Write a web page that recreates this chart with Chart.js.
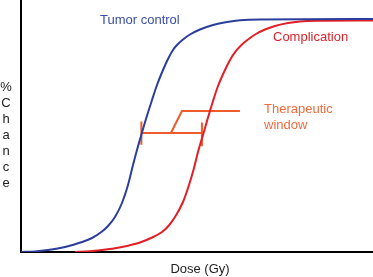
<!DOCTYPE html>
<html>
<head>
<meta charset="utf-8">
<script src="https://cdn.jsdelivr.net/npm/chart.js@4.4.1/dist/chart.umd.min.js"></script>
<style>
  html, body { margin: 0; padding: 0; background: #ffffff; }
  #wrap { width: 373px; height: 277px; }
</style>
</head>
<body>
<div id="wrap"><canvas id="c" width="373" height="277"></canvas></div>
<script>
// Tumor control curve (dose in arbitrary units 0-100, % chance)
const tumorDose = [0, 3.98, 7.67, 12.50, 17.33, 20.17, 23.01, 24.72, 26.70, 28.69, 30.40, 31.82, 32.95, 34.09, 35.51, 37.22, 38.64, 40.34, 41.76, 43.18, 44.60, 46.02, 48.01, 50.85, 54.55, 58.52, 62.22, 67.90, 100];
const tumorPct  = [0, 0.26, 0.86, 2.15, 4.29, 6.01, 8.80, 11.16, 15.02, 21.03, 28.76, 37.34, 43.78, 49.79, 57.08, 65.24, 71.67, 78.11, 82.83, 86.70, 89.27, 91.20, 93.35, 95.49, 97.42, 98.71, 99.48, 99.83, 100];

// Complication curve
const compDose = [15.34, 19.60, 23.01, 26.70, 30.40, 33.81, 36.93, 40.06, 41.76, 43.75, 46.02, 47.73, 49.15, 50.28, 51.70, 52.84, 54.55, 55.97, 57.95, 59.38, 61.08, 62.78, 64.49, 66.76, 69.32, 72.16, 75.85, 79.26, 84.94, 100];
const compPct  = [0, 0.30, 0.86, 1.63, 2.70, 4.08, 6.01, 8.58, 10.94, 15.02, 21.46, 28.76, 36.05, 42.92, 50.21, 56.22, 64.81, 71.24, 78.11, 82.40, 86.27, 89.06, 91.20, 93.56, 95.49, 97.00, 98.28, 98.93, 99.23, 99.36];

// Therapeutic window bracket
const windowDose = [34.2, 51.4];
const windowPct = 51.1;
const tickLow = 46.0, tickHigh = 56.0;
const pointerDose = [42.6, 45.7, 62.2];
const pointerPct  = [51.1, 60.5, 60.5];

const labels = {
  tumor: 'Tumor control',
  comp: 'Complication',
  therapeutic: ['Therapeutic', 'window'],
  xTitle: 'Dose (Gy)',
  yTitle: ['%', 'C', 'h', 'a', 'n', 'c', 'e']
};

const BLUE = '#2b3e9c', RED = '#e01f26', ORANGE = '#ef5a2a';
const FONT = '"Liberation Sans", Arial, Helvetica, sans-serif';

const pts = (xs, ys) => xs.map((x, i) => ({ x, y: Array.isArray(ys) ? ys[i] : ys }));

const lineBase = { pointRadius: 0, fill: false, borderWidth: 2 };

const textPlugin = {
  id: 'texts',
  afterDraw(chart) {
    const ctx = chart.ctx;
    ctx.save();
    ctx.font = '13px ' + FONT;
    ctx.textBaseline = 'middle';
    ctx.textAlign = 'left';
    ctx.fillStyle = '#3a4ea3';
    ctx.fillText(labels.tumor, 100, 20);
    ctx.fillStyle = '#d9242b';
    ctx.fillText(labels.comp, 273, 37);
    ctx.fillStyle = '#f26b3d';
    ctx.fillText(labels.therapeutic[0], 264, 109);
    ctx.fillText(labels.therapeutic[1], 264, 125);
    ctx.fillStyle = '#222222';
    ctx.textAlign = 'center';
    ctx.fillText(labels.xTitle, 200, 269);
    labels.yTitle.forEach((ch, i) => ctx.fillText(ch, 6, 87 + i * 16));
    ctx.restore();
  }
};

new Chart(document.getElementById('c'), {
  type: 'line',
  data: {
    datasets: [
      Object.assign({ data: pts(tumorDose, tumorPct), borderColor: BLUE, cubicInterpolationMode: 'monotone' }, lineBase),
      Object.assign({ data: pts(compDose, compPct), borderColor: RED, cubicInterpolationMode: 'monotone' }, lineBase),
      Object.assign({ data: pts(windowDose, windowPct), borderColor: ORANGE }, lineBase),
      Object.assign({ data: pts([windowDose[0], windowDose[0]], [tickLow, tickHigh]), borderColor: ORANGE }, lineBase),
      Object.assign({ data: pts([windowDose[1], windowDose[1]], [tickLow - 0.6, tickHigh - 0.4]), borderColor: ORANGE }, lineBase),
      Object.assign({ data: pts(pointerDose, pointerPct), borderColor: ORANGE }, lineBase)
    ]
  },
  options: {
    responsive: false,
    animation: false,
    devicePixelRatio: 1,
    layout: { padding: 0 },
    plugins: { legend: { display: false }, tooltip: { enabled: false } },
    scales: {
      x: {
        type: 'linear', min: 0, max: 100,
        ticks: { display: false },
        grid: { display: false },
        border: { display: true, color: '#000000', width: 2 },
        afterFit(s) { s.height = 25; }
      },
      y: {
        type: 'linear', min: 0, max: 108.15,
        ticks: { display: false },
        grid: { display: false },
        border: { display: true, color: '#000000', width: 2 },
        afterFit(s) { s.width = 21; }
      }
    }
  },
  plugins: [textPlugin]
});
</script>
</body>
</html>
